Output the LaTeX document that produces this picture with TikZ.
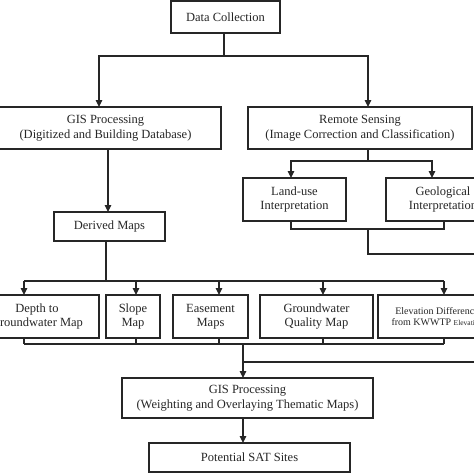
\documentclass[tikz,border=0pt]{standalone}
\usepackage{fontspec}
\setmainfont{Liberation Serif}
\usetikzlibrary{arrows.meta}
\begin{document}
\begin{tikzpicture}[x=1pt,y=-1pt,
  box/.style={draw=black!85, line width=1.3pt, inner sep=0pt, align=center, text=black!85,
    font=\fontsize{12.5}{14.5}\selectfont},
  ln/.style={draw=black!85, line width=1.2pt},
  arr/.style={ln, -{Triangle[width=6.5pt,length=7pt]}}]
\useasboundingbox (0,0) rectangle (474,474);
\clip (0,0) rectangle (474,474);
% boxes
\node[box, minimum width=109pt, minimum height=32pt] (dc) at (225.5,17) {Data Collection};
\node[box, minimum width=231pt, minimum height=42pt] (gis) at (105.5,128) {GIS Processing\\(Digitized and Building Database)};
\node[box, minimum width=224pt, minimum height=42pt] (rs) at (360,128) {Remote Sensing\\(Image Correction and Classification)};
\node[box, minimum width=111pt, minimum height=29pt] (der) at (109.5,226.5) {Derived Maps};
\node[box, minimum width=103pt, minimum height=43pt] (land) at (294.5,199.5) {Land-use\\Interpretation};
\node[box, minimum width=114pt, minimum height=43pt] (geo) at (443,199.5) {Geological\\Interpretation};
\node[box, minimum width=124pt, minimum height=43pt] (depth) at (37,316.5) {Depth to\\Groundwater Map};
\node[box, minimum width=54pt, minimum height=43pt] (slope) at (133,316.5) {Slope\\Map};
\node[box, minimum width=75pt, minimum height=43pt] (ease) at (210.5,316.5) {Easement\\Maps};
\node[box, minimum width=113pt, minimum height=43pt] (gwq) at (316.5,316.5) {Groundwater\\Quality Map};
\node[box, minimum width=118pt, minimum height=43pt, font=\fontsize{10}{11.5}\selectfont] (elev) at (437,316.5) {Elevation Difference\\from KWWTP {\fontsize{7.5}{9}\selectfont Elevation}};
\node[box, minimum width=251pt, minimum height=40pt] (gis2) at (247.5,398) {GIS Processing\\(Weighting and Overlaying Thematic Maps)};
\node[box, minimum width=201pt, minimum height=29pt] (sat) at (249.5,457.5) {Potential SAT Sites};
% attachment coordinates
\coordinate (dcout) at (224,33);
\coordinate (j1) at (224,56);
\coordinate (gisin) at (99,107);
\coordinate (rsin) at (368,107);
\coordinate (rsout) at (368,149);
\coordinate (j2) at (368,161);
\coordinate (landin) at (291,178);
\coordinate (geoin) at (432,178);
\coordinate (landout) at (291,221);
\coordinate (geoout) at (444,221);
\coordinate (j3) at (368,229);
\coordinate (j4) at (368,254);
\coordinate (off) at (500,254);
\coordinate (j5) at (243,362);
\coordinate (gisout) at (108,149);
\coordinate (derin) at (108,212);
\coordinate (derout) at (106,241);
\coordinate (j6) at (106,281);
\coordinate (i1) at (24,295);
\coordinate (i2) at (136,295);
\coordinate (i3) at (219,295);
\coordinate (i4) at (323,295);
\coordinate (i5) at (444,295);
\coordinate (o1) at (24,338);
\coordinate (o2) at (136,338);
\coordinate (o3) at (219,338);
\coordinate (o4) at (323,338);
\coordinate (o5) at (444,338);
\coordinate (j7) at (243,344);
\coordinate (g2in) at (243,378);
\coordinate (g2out) at (243,418);
\coordinate (satin) at (243,443);
% connectors
\draw[ln] (dcout) -- (j1);
\draw[arr] (j1) -| (gisin);
\draw[arr] (j1) -| (rsin);
\draw[arr] (gisout) -- (derin);
\draw[ln] (rsout) -- (j2);
\draw[arr] (j2) -| (landin);
\draw[arr] (j2) -| (geoin);
\draw[ln] (landout) |- (j3) -| (geoout);
\draw[ln] (j3) -- (j4) -- (off) |- (j5);
\draw[ln] (derout) -- (j6);
\draw[ln] (i1 |- j6) -- (i5 |- j6);
\foreach \i in {i1,i2,i3,i4,i5} \draw[arr] (\i |- j6) -- (\i);
\foreach \o in {o1,o2,o3,o4,o5} \draw[ln] (\o) -- (\o |- j7);
\draw[ln] (o1 |- j7) -- (o5 |- j7);
\draw[arr] (j7) -- (g2in);
\draw[arr] (g2out) -- (satin);
\end{tikzpicture}
\end{document}
